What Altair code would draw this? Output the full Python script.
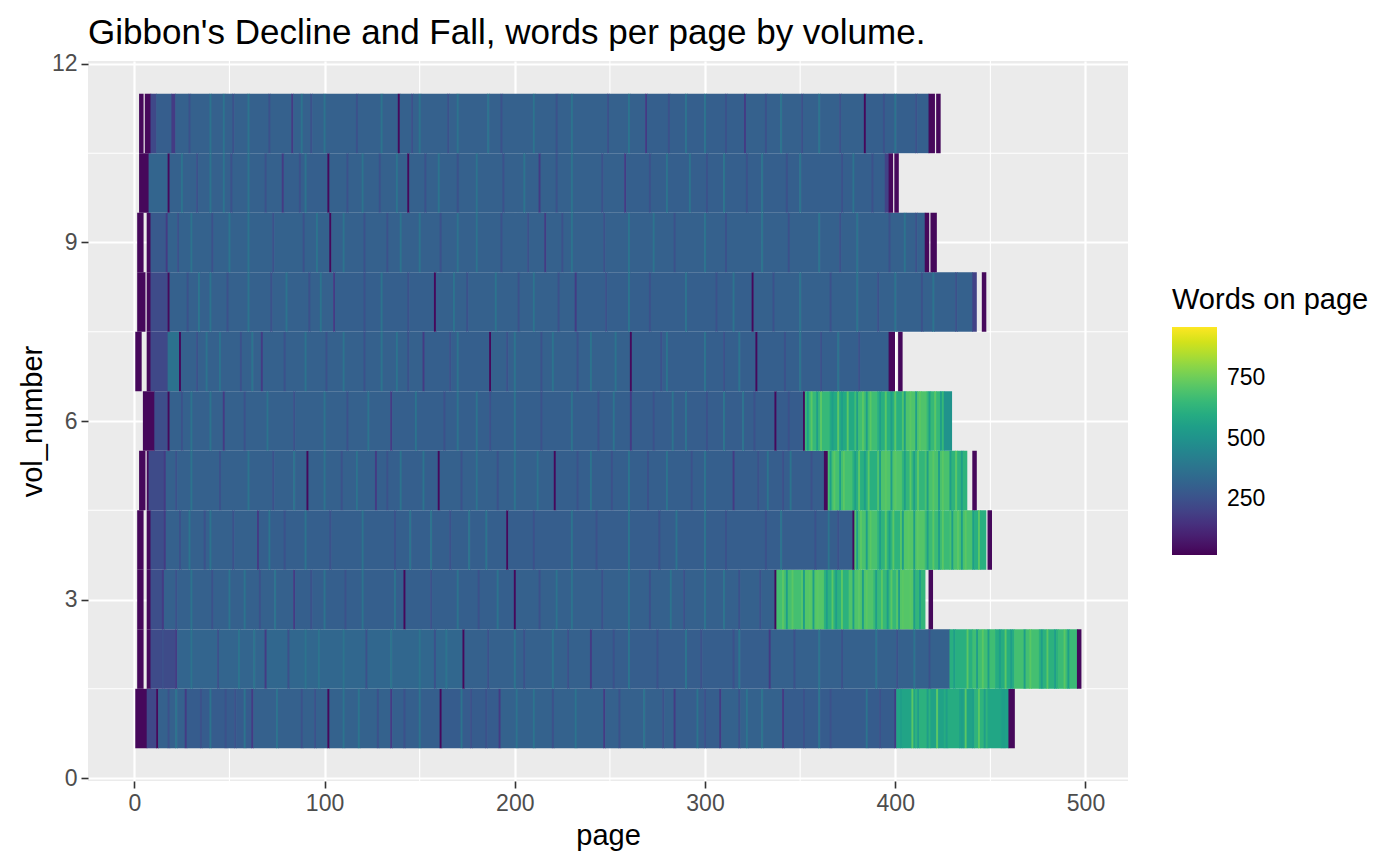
import altair as alt
import pandas as pd

# ---------------- data ----------------
vol_number = [1, 2, 3, 4, 5, 6, 7, 8, 9, 10, 11]

# main text and notes sections: (first page, last page, words on page)
segments = {
    1: [(7, 11, 220), (13, 26, 305), (28, 61, 290), (63, 101, 305), (103, 134, 310),
        (136, 160, 300), (162, 191, 290), (193, 246, 310), (248, 283, 305), (285, 307, 295),
        (309, 340, 310), (342, 400, 290),
        (401, 410, 570), (411, 418, 620), (419, 425, 560), (426, 433, 600), (434, 440, 560),
        (441, 448, 630), (449, 455, 575), (456, 459, 555)],
    2: [(9, 21, 230), (23, 68, 320), (70, 172, 330), (174, 239, 305), (241, 333, 295),
        (335, 428, 305),
        (429, 440, 610), (441, 452, 670), (453, 462, 600), (463, 475, 680), (476, 485, 620),
        (486, 495, 660)],
    3: [(9, 14, 240), (16, 83, 305), (85, 141, 300), (143, 199, 300), (201, 336, 305),
        (338, 350, 680), (351, 362, 710), (363, 375, 620), (376, 388, 700), (389, 400, 650),
        (401, 410, 710), (411, 415, 640)],
    4: [(9, 15, 240), (17, 64, 305), (66, 195, 300), (197, 377, 295),
        (379, 390, 690), (391, 402, 630), (403, 415, 710), (416, 428, 660), (429, 440, 690),
        (441, 447, 610)],
    5: [(8, 15, 230), (17, 90, 305), (92, 126, 305), (128, 159, 300), (161, 220, 305),
        (222, 314, 300), (316, 362, 295),
        (365, 377, 680), (378, 390, 610), (391, 403, 700), (404, 415, 640), (416, 428, 690),
        (429, 437, 630)],
    6: [(11, 17, 240), (19, 46, 305), (48, 134, 305), (136, 260, 300), (262, 336, 295),
        (338, 351, 290),
        (353, 365, 650), (366, 378, 590), (379, 390, 670), (391, 403, 610), (404, 416, 700),
        (417, 425, 650), (426, 429, 500)],
    7: [(9, 17, 220), (18, 23, 370), (25, 66, 305), (68, 151, 305), (153, 186, 300),
        (188, 260, 305), (262, 326, 300), (328, 396, 300)],
    8: [(9, 17, 230), (19, 104, 305), (106, 157, 300), (159, 231, 305), (233, 324, 300),
        (326, 440, 305), (441, 442, 200)],
    9: [(9, 16, 280), (18, 102, 310), (104, 215, 305), (217, 415, 305)],
    10: [(8, 17, 320), (19, 77, 305), (79, 101, 300), (103, 143, 305), (145, 212, 305),
         (214, 257, 305), (259, 394, 300), (395, 396, 200)],
    11: [(9, 11, 220), (12, 19, 295), (22, 82, 305), (84, 138, 305), (140, 268, 305),
         (270, 320, 300), (322, 383, 305), (385, 417, 300)],
}

# nearly empty pages (chapter ends, front matter)
dark_pages = {
    1: [1, 2, 3, 4, 5, 6, 12, 102, 161, 460, 461, 462],
    2: [2, 3, 4, 7, 8, 173, 496, 497],
    3: [2, 3, 4, 7, 8, 142, 200, 337, 418, 419],
    4: [2, 3, 4, 7, 8, 196, 378, 449, 450],
    5: [3, 4, 5, 7, 91, 160, 221, 363, 364, 441, 442],
    6: [5, 6, 7, 8, 9, 10, 18, 337, 352],
    7: [1, 2, 3, 7, 8, 24, 187, 261, 327, 397, 398, 399, 402, 403],
    8: [2, 3, 4, 5, 7, 8, 18, 158, 325, 446, 447],
    9: [2, 3, 4, 7, 8, 103, 416, 417, 419, 420, 421],
    10: [3, 4, 5, 6, 7, 18, 102, 144, 397, 398, 400, 401],
    11: [3, 4, 6, 7, 8, 139, 384, 418, 419, 420, 422, 423],
}
dark_words = 35

# short pages
dim_pages = {
    1: [27, 62, 135, 192, 247, 284, 308, 341, 400],
    2: [22, 69, 240, 334],
    3: [15, 84],
    4: [16, 65],
    5: [16, 127, 315],
    6: [47, 135, 261],
    7: [67, 152],
    8: [105, 232],
    9: [17, 216],
    10: [78, 213, 258],
    11: [20, 21, 83, 269, 321],
}
dim_words = 180

# somewhat short pages (purple-blue stripes)
shade_pages = {
    1: [18, 35, 48, 53, 88, 95, 128, 142, 177, 185, 220, 255, 278, 300, 318, 352, 366, 392],
    2: [15, 44, 81, 122, 158, 186, 205, 228, 252, 275, 298, 315, 347, 372, 401, 418],
    3: [22, 41, 66, 93, 111, 156, 181, 213, 246, 271, 289, 318, 329],
    4: [24, 37, 52, 79, 103, 137, 166, 210, 243, 276, 311, 332, 358, 370],
    5: [22, 45, 73, 109, 133, 172, 191, 233, 251, 270, 293, 328, 341, 356],
    6: [25, 58, 84, 112, 163, 187, 214, 244, 273, 301, 326, 344],
    7: [33, 56, 79, 101, 121, 144, 166, 196, 214, 233, 277, 310, 342, 361, 381],
    8: [28, 49, 72, 92, 121, 144, 175, 202, 223, 248, 271, 306, 336, 366, 391, 414, 432],
    9: [23, 41, 73, 89, 121, 133, 161, 193, 207, 225, 247, 284, 311, 344, 371, 397, 411],
    10: [33, 51, 69, 87, 112, 129, 153, 170, 194, 222, 246, 271, 301, 322, 343, 372, 388],
    11: [29, 52, 71, 93, 117, 146, 165, 193, 222, 249, 281, 311, 332, 351, 371, 394, 411],
}
shade_words = 250

# fuller pages (lighter stripes)
light_pages = {
    1: [40, 75, 118, 150, 172, 210, 232, 268, 296, 330, 360, 385, 22, 58, 110, 201, 322],
    2: [30, 55, 90, 110, 135, 150, 200, 220, 260, 290, 360, 390, 410, 63, 97, 164, 318],
    3: [30, 50, 100, 120, 170, 230, 260, 300, 58, 74, 137, 191, 222, 282, 310],
    4: [40, 90, 120, 156, 176, 230, 260, 300, 340, 29, 71, 145, 185, 285, 365],
    5: [30, 60, 100, 140, 180, 200, 240, 260, 280, 300, 345, 84, 117, 152, 212, 333],
    6: [30, 70, 100, 148, 170, 200, 230, 290, 320, 40, 123, 180, 252, 283, 310],
    7: [45, 90, 110, 130, 170, 200, 220, 240, 280, 300, 350, 370, 38, 62, 138, 253, 318],
    8: [40, 60, 80, 130, 190, 210, 260, 290, 350, 380, 400, 420, 34, 98, 168, 315],
    9: [30, 50, 60, 110, 140, 150, 170, 180, 230, 260, 300, 330, 360, 380, 405, 96, 273],
    10: [25, 40, 60, 90, 120, 160, 180, 230, 280, 310, 330, 350, 47, 138, 205, 292, 378],
    11: [40, 60, 100, 130, 150, 170, 210, 230, 260, 290, 300, 340, 360, 400, 47, 88, 186],
}
light_words = 380

# stripes inside the notes sections
note_bright_pages = {
    1: [409, 422, 437, 444],
    2: [438, 446, 458, 471, 480, 489],
    3: [341, 346, 355, 359, 367, 372, 381, 385, 393, 398, 404, 408],
    4: [382, 387, 395, 399, 407, 412, 420, 425, 433, 437, 444],
    5: [368, 373, 381, 386, 395, 400, 408, 412, 420, 425, 432],
    6: [356, 361, 370, 375, 383, 387, 395, 400, 408, 413, 421],
    7: [], 8: [], 9: [], 10: [], 11: [],
}
note_bright_words = 720
note_deep_pages = {
    1: [403, 412, 417, 427, 435, 441, 447, 457],
    2: [431, 443, 449, 455, 461, 468, 477, 484, 491],
    3: [343, 352, 357, 364, 369, 378, 383, 390, 396, 402, 410, 413],
    4: [380, 385, 392, 397, 404, 410, 417, 423, 430, 435, 441],
    5: [366, 371, 379, 384, 392, 398, 405, 410, 417, 423, 429, 435],
    6: [354, 359, 367, 372, 380, 385, 392, 398, 405, 411, 418, 424],
    7: [], 8: [], 9: [], 10: [], 11: [],
}
note_deep_words = 545

color_domain = [19, 961]
legend_values = [250, 500, 750]
x_ticks = [0, 100, 200, 300, 400, 500]
x_minor = [50, 150, 250, 350, 450]
y_ticks = [0, 3, 6, 9, 12]
y_minor = [1.5, 4.5, 7.5, 10.5]

# ---------------- build the table ----------------
rows = []
for v in vol_number:
    words = {}
    for a, b, w in segments[v]:
        for p in range(a, b + 1):
            words[p] = w
    for p in shade_pages[v]:
        if p in words and words[p] < 450:
            words[p] = shade_words
    for p in light_pages[v]:
        if p in words and words[p] < 450:
            words[p] = light_words
    for p in note_bright_pages[v]:
        if p in words and words[p] >= 450:
            words[p] = note_bright_words
    for p in note_deep_pages[v]:
        if p in words and words[p] >= 450:
            words[p] = note_deep_words
    for p in dim_pages[v]:
        words[p] = dim_words
    for p in dark_pages[v]:
        words[p] = dark_words
    pages = sorted(words)
    start = prev = pages[0]
    for p in pages[1:] + [None]:
        if p is not None and p == prev + 1 and words[p] == words[start]:
            prev = p
            continue
        rows.append({"vol_number": v, "p0": start - 0.5, "p1": prev + 0.5,
                     "v0": v - 0.5, "v1": v + 0.5, "words": words[start]})
        if p is not None:
            start = prev = p
df = pd.DataFrame(rows)

FONT = "Liberation Sans"
xscale = alt.Scale(domain=[-24.35, 522.35], nice=False, zero=False)
yscale = alt.Scale(domain=[-0.05, 12.05], nice=False, zero=False)

x_axis = alt.Axis(
    values=x_ticks, title="page", format="d",
    grid=True, gridColor="white", gridWidth=2.2,
    domain=False, tickColor="#333333", tickSize=7, tickWidth=1.6,
    labelColor="#4D4D4D", labelFontSize=23, labelFont=FONT, labelPadding=4,
    titleFont=FONT, titleFontSize=29, titleFontWeight="normal", titleColor="black",
    titleBaseline="middle", titleY=54, titleX=520)
y_axis = alt.Axis(
    values=y_ticks, title="vol_number", format="d",
    grid=True, gridColor="white", gridWidth=2.2,
    domain=False, tickColor="#333333", tickSize=7, tickWidth=1.6,
    labelColor="#4D4D4D", labelFontSize=23, labelFont=FONT, labelPadding=4,
    titleFont=FONT, titleFontSize=29, titleFontWeight="normal", titleColor="black",
    titleBaseline="middle", titleX=-56, titleY=360, titleAngle=-90)

minor_x = alt.Chart(pd.DataFrame({"m": x_minor})).mark_rule(
    color="white", strokeWidth=1.1).encode(
    x=alt.X("m:Q", scale=xscale, axis=x_axis, title="page"))
minor_y = alt.Chart(pd.DataFrame({"m": y_minor})).mark_rule(
    color="white", strokeWidth=1.1).encode(
    y=alt.Y("m:Q", scale=yscale, axis=y_axis, title="vol_number"))

tiles = alt.Chart(df).mark_rect(strokeWidth=0, x2Offset=0.7).encode(
    x=alt.X("p0:Q", scale=xscale, axis=x_axis, title="page"),
    x2="p1:Q",
    y=alt.Y("v0:Q", scale=yscale, axis=y_axis, title="vol_number"),
    y2="v1:Q",
    color=alt.Color("words:Q", scale=alt.Scale(scheme="viridis", domain=color_domain),
                    legend=alt.Legend(
                        title="Words on page", orient="none", legendX=1084, legendY=225,
                        direction="vertical", gradientLength=228, gradientThickness=45,
                        gradientStrokeWidth=0, values=legend_values, format="d",
                        titleFont=FONT, titleFontSize=29, titleFontWeight="normal",
                        titleColor="black", titlePadding=12, titleLimit=400,
                        labelFont=FONT, labelFontSize=23, labelColor="black",
                        labelOffset=10)),
)

chart = alt.layer(minor_x, minor_y, tiles).properties(
    width=1040, height=720,
    padding={"left": 80, "top": 53, "right": 264, "bottom": 76},
    autosize=alt.AutoSizeParams(type="none"),
    background="white",
    title=alt.TitleParams("Gibbon's Decline and Fall, words per page by volume.",
                          anchor="start", frame="group", fontSize=35, font=FONT,
                          fontWeight="normal", color="black", baseline="alphabetic",
                          offset=0, dy=26),
).configure_view(fill="#EBEBEB", strokeWidth=0)

chart.save("out.html", embed_options={"renderer": "svg", "actions": False})
